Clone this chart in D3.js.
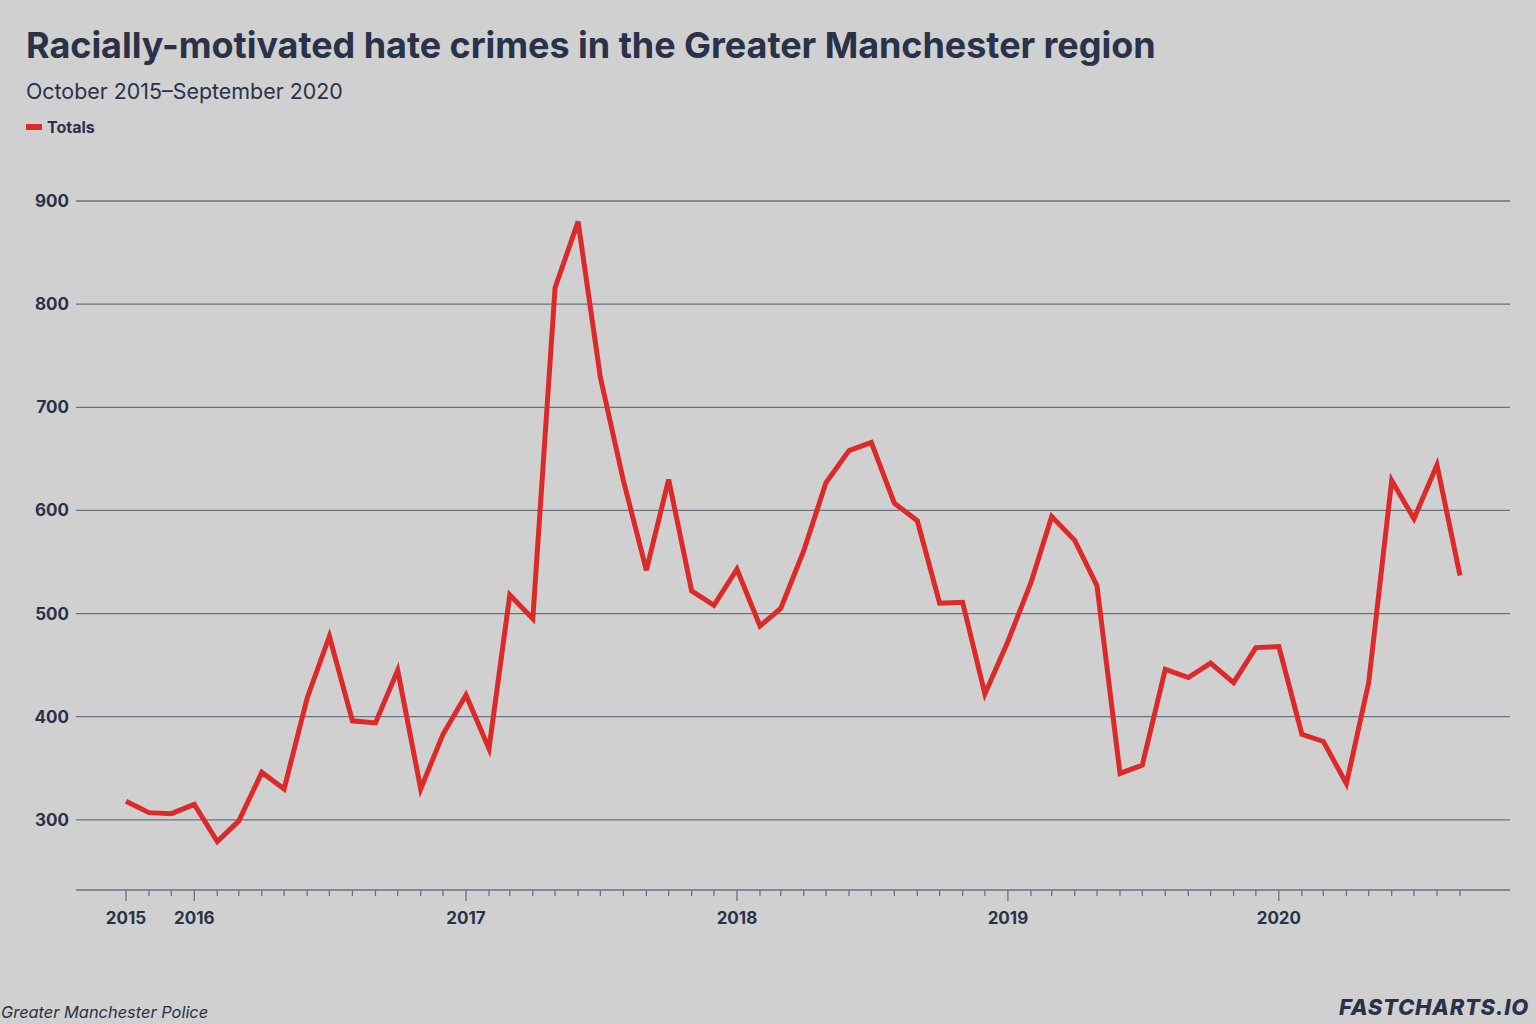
<!DOCTYPE html>
<html>
<head>
<meta charset="utf-8">
<script src="https://cdn.jsdelivr.net/npm/d3@7"></script>
<style>
  html, body { margin: 0; padding: 0; background: #cfd0cf; }
  svg { display: block; }
  text { font-family: Inter, "Noto Sans", sans-serif; fill: #2a3249; }
</style>
</head>
<body>
<svg id="chart" width="1536" height="1024"></svg>
<script>
const title = "Racially-motivated hate crimes in the Greater Manchester region";
const subtitle = "October 2015–September 2020";
const seriesName = "Totals";
const source = "Greater Manchester Police";
const brand = "FASTCHARTS.IO";

const startYear = 2015, startMonth = 9; // October 2015 (0-based month)
const totals = [
  318, 307, 306, 315, 279, 299, 346, 330, 418, 478,
  396, 394, 445, 330, 383, 421, 369, 518, 495, 816,
  880, 729, 629, 542, 630, 522, 508, 543, 488, 505,
  561, 627, 658, 666, 607, 590, 510, 511, 422, 473,
  530, 594, 571, 527, 345, 353, 446, 438, 452, 433,
  467, 468, 383, 376, 335, 433, 629, 592, 644, 537
];
const yTicks = [300, 400, 500, 600, 700, 800, 900];
const xLabelYears = [2015, 2016, 2017, 2018, 2019, 2020];

const data = totals.map((v, i) => ({ date: new Date(startYear, startMonth + i, 1), value: v }));

const svg = d3.select("#chart");
const plotLeft = 76, plotRight = 1510, plotTop = 201, plotBottom = 890;

const x = d3.scaleTime()
  .domain([data[0].date, data[data.length - 1].date])
  .range([126, 1460]);
const y = d3.scaleLinear().domain([232, 900]).range([plotBottom, plotTop]);

// Title etc.
svg.append("text").attr("x", 26).attr("y", 58)
  .attr("font-size", 36).attr("font-weight", 700).attr("letter-spacing", -0.05).text(title);
svg.append("text").attr("x", 26).attr("y", 99)
  .attr("font-size", 21.4).attr("font-weight", 400).text(subtitle);
svg.append("rect").attr("x", 26).attr("y", 124).attr("width", 16).attr("height", 6).attr("fill", "#dc2a2a");
svg.append("text").attr("x", 47).attr("y", 133)
  .attr("font-size", 16).attr("font-weight", 700).text(seriesName);

// Gridlines
svg.append("g").selectAll("line").data(yTicks).join("line")
  .attr("x1", plotLeft).attr("x2", plotRight)
  .attr("y1", d => y(d)).attr("y2", d => y(d))
  .attr("stroke", "#6b7182").attr("stroke-width", 1.3);

// Y labels
svg.append("g").selectAll("text").data(yTicks).join("text")
  .attr("x", 69).attr("y", d => y(d)).attr("dy", "0.35em")
  .attr("text-anchor", "end").attr("font-size", 17).attr("font-weight", 700)
  .text(d => d);

// X axis baseline
svg.append("line").attr("x1", plotLeft).attr("x2", plotRight).attr("y1", plotBottom).attr("y2", plotBottom)
  .attr("stroke", "#6b7182").attr("stroke-width", 1.3);

// Monthly ticks
const majorDates = xLabelYears.map(yr => yr === startYear ? data[0].date : new Date(yr, 0, 1));
const isMajor = d => majorDates.some(m => +m === +d);
svg.append("g").selectAll("line").data(data.map(d => d.date)).join("line")
  .attr("x1", d => x(d)).attr("x2", d => x(d))
  .attr("y1", plotBottom).attr("y2", d => isMajor(d) ? plotBottom + 11 : plotBottom + 6)
  .attr("stroke", "#6b7182").attr("stroke-width", 1.3);

svg.append("g").selectAll("text").data(xLabelYears).join("text")
  .attr("x", (d, i) => x(majorDates[i])).attr("y", 924)
  .attr("text-anchor", "middle").attr("font-size", 17).attr("font-weight", 700)
  .text(d => d);

// Line
const line = d3.line().x(d => x(d.date)).y(d => y(d.value));
svg.append("path").datum(data)
  .attr("d", line).attr("fill", "none")
  .attr("stroke", "#dc2a2a").attr("stroke-width", 5)
  .attr("stroke-linejoin", "miter").attr("stroke-linecap", "butt");

// Footer
svg.append("text").attr("x", 1).attr("y", 1018)
  .attr("font-size", 16.4).attr("font-style", "italic").text(source);
svg.append("text").attr("x", 1529).attr("y", 1015)
  .attr("text-anchor", "end").attr("font-size", 22).attr("font-weight", 800)
  .attr("font-style", "italic").attr("letter-spacing", 0.7).text(brand);
</script>
</body>
</html>
